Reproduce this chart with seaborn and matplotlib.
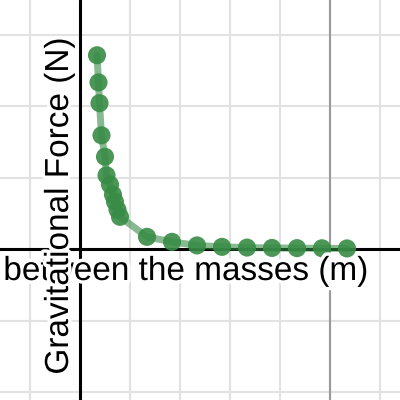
import matplotlib
matplotlib.use("Agg")
import matplotlib.pyplot as plt
import matplotlib.patheffects as pe
import seaborn as sns
import pandas as pd

# distance between the masses (grid units) and gravitational force (grid units)
distance = [0.34, 0.37, 0.39, 0.43, 0.50, 0.53, 0.60, 0.66, 0.70, 0.75, 0.80,
            1.34, 1.84, 2.34, 2.84, 3.34, 3.84, 4.34, 4.84, 5.34]
force = [2.71, 2.33, 2.04, 1.59, 1.29, 1.03, 0.90, 0.76, 0.66, 0.55, 0.45,
         0.17, 0.10, 0.05, 0.03, 0.02, 0.015, 0.012, 0.01, 0.008]
x_label = "Distance between the masses (m)"
y_label = "Gravitational Force (N)"

df = pd.DataFrame({"d": distance, "f": force})

sns.set_style("white")
plt.rcParams["font.family"] = ["Liberation Sans", "DejaVu Sans"]

fig = plt.figure(figsize=(4, 4), dpi=100)
ax = fig.add_axes([0, 0, 1, 1])

green = "#388c46"
sns.lineplot(data=df, x="d", y="f", ax=ax, color=green, alpha=0.6, lw=5,
             sort=False, zorder=3)
sns.scatterplot(data=df, x="d", y="f", ax=ax, color=green, s=170, alpha=0.9,
                edgecolor="none", zorder=4)

ax.set_xlim(-1.6, 6.4)
ax.set_ylim(-151 / 71.5, 249 / 71.5)
ax.set_xticks(range(-1, 7))
ax.set_yticks(range(-2, 4))
ax.grid(True, color="#e2e2e2", lw=1.5, zorder=0)
ax.set_axisbelow(True)
ax.axvline(5, color="#9a9a9a", lw=1.5, zorder=1)
ax.axhline(0, color="black", lw=2.2, zorder=2)
ax.axvline(0, color="black", lw=2.2, zorder=2)
ax.tick_params(length=0, labelbottom=False, labelleft=False)
for s in ax.spines.values():
    s.set_visible(False)
ax.set_xlabel("")
ax.set_ylabel("")

halo = [pe.withStroke(linewidth=5, foreground="white")]
fig.text(369 / 400, 1 - 280 / 400, x_label, ha="right", va="baseline",
         fontsize=24, color="black", path_effects=halo, zorder=5)
fig.text(68 / 400, 1 - 206 / 400, y_label, ha="center", va="baseline",
         rotation=90, rotation_mode="anchor", fontsize=24, color="black",
         path_effects=halo, zorder=6)

fig.savefig("out.png", dpi=100)
